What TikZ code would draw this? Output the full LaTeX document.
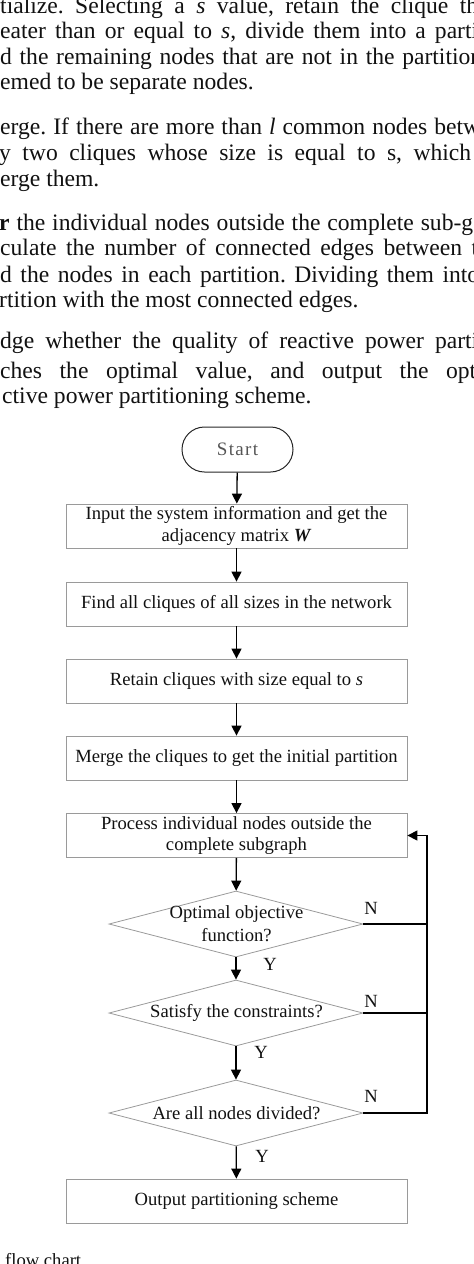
\documentclass[tikz,border=0pt]{standalone}
\usepackage{fontspec}
\setmainfont{Liberation Serif}
\newfontfamily\startfont[LetterSpace=7]{Liberation Serif}
\usetikzlibrary{shapes.geometric,arrows.meta}
\definecolor{boxgray}{HTML}{9A9A9A}
\definecolor{ink}{HTML}{111111}
\definecolor{startgray}{HTML}{555555}
\frenchspacing
\begin{document}
\begin{tikzpicture}[x=1pt,y=-1pt,
  body/.style={anchor=base west,inner sep=0pt,text=ink,font=\fontsize{23.6}{25.5}\selectfont},
  box/.style={draw=boxgray,line width=0.8pt,minimum width=341pt,minimum height=44pt,inner sep=0pt,align=center,text=ink,font=\fontsize{18.6}{21.5}\selectfont},
  dia/.style={diamond,draw=boxgray,line width=0.8pt,minimum width=254pt,minimum height=66pt,inner sep=0pt},
  dtext/.style={align=center,inner sep=0pt,text=ink,font=\fontsize{18.6}{23}\selectfont},
  lab/.style={inner sep=0pt,text=ink,font=\fontsize{18.6}{20}\selectfont},
  conn/.style={line width=1.3pt,draw=black,-{Triangle[width=10pt,length=10pt]}},
  plainline/.style={line width=1.3pt,draw=black}
]
\useasboundingbox (0,0) rectangle (474,1264);
\clip (0,0) rectangle (474,1264);

% body text
\node[body] (p1a) at (0,13) {\makebox[478pt][s]{tialize. Selecting a \textit{s} value, retain the clique th}};
\node[body] (p1b) at (0,38.5) {\makebox[478pt][s]{eater than or equal to \textit{s}, divide them into a parti}};
\node[body] (p1c) at (0,64) {\makebox[482pt][s]{d the remaining nodes that are not in the partition}};
\node[body] (p1d) at (0,89.5) {emed to be separate nodes.};
\node[body] (p2a) at (0,134) {\makebox[480pt][s]{erge. If there are more than \textit{l} common nodes betw}};
\node[body] (p2b) at (-1,160) {\makebox[472pt][s]{y two cliques whose size is equal to s, which}};
\node[body] (p2c) at (0,186) {erge them.};
\node[body] (p3a) at (-1,230) {\makebox[474pt][s]{\textbf{r} the individual nodes outside the complete sub-g}};
\node[body] (p3b) at (0,255) {\makebox[478pt][s]{culate the number of connected edges between t}};
\node[body] (p3c) at (0,282) {\makebox[479pt][s]{d the nodes in each partition. Dividing them into}};
\node[body] (p3d) at (-1,307) {rtition with the most connected edges.};
\node[body] (p4a) at (0,348) {\makebox[478pt][s]{dge whether the quality of reactive power parti}};
\node[body] (p4b) at (0,378) {\makebox[476pt][s]{ches the optimal value, and output the opt}};
\node[body] (p4c) at (2,403) {ctive power partitioning scheme.};

% flowchart
\node[draw=black!85,line width=1pt,rounded corners=22.5pt,minimum width=111pt,minimum height=45pt,inner sep=0pt,text=startgray,font=\startfont\fontsize{19}{21}\selectfont] (start) at (237.5,449.5) {Start};
\node[box] (b1) at (236.5,526) {Input the system information and get the\\adjacency matrix \textbf{\textit{W}}};
\node[box] (b2) at (236.5,604) {Find all cliques of all sizes in the network};
\node[box] (b3) at (236.5,681) {Retain cliques with size equal to \textit{s}};
\node[box] (b4) at (236.5,758) {Merge the cliques to get the initial partition};
\node[box] (b5) at (236.5,835.5) {Process individual nodes outside the\\complete subgraph};
\node[dia] (d1) at (236,924) {};
\node[dtext] (t1) at (236.5,924) {Optimal objective\\function?};
\node[dia] (d2) at (236,1013) {};
\node[dtext] (t2) at (236.5,1013) {Satisfy the constraints?};
\node[dia] (d3) at (236,1113) {};
\node[dtext] (t3) at (236.5,1113) {Are all nodes divided?};
\node[box] (b6) at (236.5,1201) {Output partitioning scheme};

\node[lab] (n1) at (371,908) {N};
\node[lab] (n2) at (371,1001) {N};
\node[lab] (n3) at (371,1096) {N};
\node[lab] (y1) at (270,964) {Y};
\node[lab] (y2) at (261,1052) {Y};
\node[lab] (y3) at (262,1156) {Y};

\draw[conn] (start) -- (b1);
\draw[conn] (b1) -- (b2);
\draw[conn] (b2) -- (b3);
\draw[conn] (b3) -- (b4);
\draw[conn] (b4) -- (b5);
\draw[conn] (b5) -- (d1);
\draw[conn] (d1) -- (d2);
\draw[conn] (d2) -- (d3);
\draw[conn] (d3) -- (b6);

\coordinate (fb) at (427,835.5);
\draw[plainline] (d1.east) -- (d1.east -| fb);
\draw[plainline] (d2.east) -- (d2.east -| fb);
\draw[conn] (d3.east) -| (fb) -- (b5.east);

\node[anchor=base west,inner sep=0pt,text=ink,font=\fontsize{18.6}{20}\selectfont] (cap) at (5,1266) {flow chart};
\end{tikzpicture}
\end{document}
